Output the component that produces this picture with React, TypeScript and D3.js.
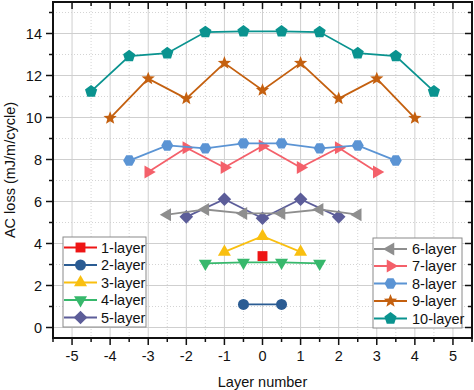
import React from "react";
import * as d3 from "d3";

const seriesNames = ["1-layer","2-layer","3-layer","4-layer","5-layer","6-layer","7-layer","8-layer","9-layer","10-layer"];
const colors = ["#ee1515","#2b5c93","#f9bf10","#37b86c","#5c5d99","#8e8e8e","#f4606a","#5b94d4","#c4600f","#0a938f"];
const markers = ["square","circle","triUp","triDown","diamond","triLeft","triRight","hexagon","star","pentagon"];

const x1 = [0];
const y1 = [3.4];
const x2 = [-0.5, 0.5];
const y2 = [1.1, 1.1];
const x3 = [-1, 0, 1];
const y3 = [3.6, 4.35, 3.6];
const x4 = [-1.5, -0.5, 0.5, 1.5];
const y4 = [3.05, 3.1, 3.1, 3.05];
const x5 = [-2, -1, 0, 1, 2];
const y5 = [5.27, 6.11, 5.2, 6.11, 5.27];
const x6 = [-2.5, -1.5, -0.5, 0.5, 1.5, 2.5];
const y6 = [5.37, 5.62, 5.43, 5.43, 5.62, 5.37];
const x7 = [-3, -2, -1, 0, 1, 2, 3];
const y7 = [7.41, 8.56, 7.62, 8.64, 7.62, 8.56, 7.41];
const x8 = [-3.5, -2.5, -1.5, -0.5, 0.5, 1.5, 2.5, 3.5];
const y8 = [7.95, 8.67, 8.53, 8.77, 8.77, 8.53, 8.67, 7.95];
const x9 = [-4, -3, -2, -1, 0, 1, 2, 3, 4];
const y9 = [9.97, 11.85, 10.9, 12.59, 11.3, 12.59, 10.9, 11.85, 9.97];
const x10 = [-4.5, -3.5, -2.5, -1.5, -0.5, 0.5, 1.5, 2.5, 3.5, 4.5];
const y10 = [11.24, 12.92, 13.06, 14.07, 14.1, 14.1, 14.07, 13.06, 12.92, 11.24];

const xsAll = [x1,x2,x3,x4,x5,x6,x7,x8,x9,x10];
const ysAll = [y1,y2,y3,y4,y5,y6,y7,y8,y9,y10];

const xTicks = [-5,-4,-3,-2,-1,0,1,2,3,4,5];
const yTicks = [0,2,4,6,8,10,12,14];
const xLabel = "Layer number";
const yLabel = "AC loss (mJ/m/cycle)";

const W = 474, H = 390;
const L = 53, R = 472, T = 2, B = 338;
const FONT = "'Liberation Sans', Arial, sans-serif";
const FS = 14.5;

function polygon(n: number, r: number, rot: number) {
  const pts: string[] = [];
  for (let i = 0; i < n; i++) {
    const a = rot + (i * 2 * Math.PI) / n;
    pts.push(`${(r * Math.cos(a)).toFixed(2)},${(r * Math.sin(a)).toFixed(2)}`);
  }
  return "M" + pts.join("L") + "Z";
}

function star(ro: number, ri: number) {
  const pts: string[] = [];
  for (let i = 0; i < 10; i++) {
    const r = i % 2 === 0 ? ro : ri;
    const a = -Math.PI / 2 + (i * Math.PI) / 5;
    pts.push(`${(r * Math.cos(a)).toFixed(2)},${(r * Math.sin(a)).toFixed(2)}`);
  }
  return "M" + pts.join("L") + "Z";
}

function markerPath(kind: string): string {
  switch (kind) {
    case "square": return polygon(4, 7, Math.PI / 4);
    case "circle": return d3.symbol(d3.symbolCircle, 95)() as string;
    case "triUp": return polygon(3, 7.5, -Math.PI / 2);
    case "triDown": return polygon(3, 7.5, Math.PI / 2);
    case "diamond": return polygon(4, 6.8, 0);
    case "triLeft": return polygon(3, 7.5, Math.PI);
    case "triRight": return polygon(3, 7.5, 0);
    case "hexagon": return polygon(6, 6, 0);
    case "star": return star(7, 3);
    case "pentagon": return polygon(5, 6.4, -Math.PI / 2);
  }
  return "";
}

export default function App() {
  const x = d3.scaleLinear().domain([-5.5, 5.5]).range([L, R]);
  const y = d3.scaleLinear().domain([-0.5, 15.5]).range([B, T]);
  const line = d3.line<[number, number]>().x(d => x(d[0])).y(d => y(d[1]));

  const xMinor = d3.range(-5.5, 5.51, 0.5);
  const yInts = d3.range(0, 16, 1);
  const xGridMinor = d3.range(-4.5, 5, 1);
  const yGridMinor = d3.range(1, 16, 2);

  const legendLeft = [0,1,2,3,4];
  const legendRight = [5,6,7,8,9];

  const legend = (idxs: number[], bx: number, by: number, bw: number, bh: number, ey: number[], lx0: number, lx1: number, tx: number) => (
    <g>
      <rect x={bx} y={by} width={bw} height={bh} fill="#fff" stroke="#8a8a8a" strokeWidth={1} />
      {idxs.map((s, i) => (
        <g key={s}>
          <line x1={lx0} x2={lx1} y1={ey[i]} y2={ey[i]} stroke={colors[s]} strokeWidth={2} />
          <path d={markerPath(markers[s])} transform={`translate(${(lx0 + lx1) / 2},${ey[i]})`} fill={colors[s]} />
          <text x={tx} y={ey[i]} dy="0.35em" fontSize={FS} fontFamily={FONT} fill="#111">{seriesNames[s]}</text>
        </g>
      ))}
    </g>
  );

  return (
    <svg width={W} height={H} style={{ position: "absolute", left: 0, top: 0, background: "#fff" }}>
      <rect x={0} y={0} width={W} height={H} fill="#fff" />
      {xGridMinor.map(v => <line key={"xm" + v} x1={x(v)} x2={x(v)} y1={T} y2={B} stroke="#d4d4d4" strokeWidth={1} strokeDasharray="1,2" />)}
      {yGridMinor.map(v => <line key={"ym" + v} x1={L} x2={R} y1={y(v)} y2={y(v)} stroke="#d4d4d4" strokeWidth={1} strokeDasharray="1,2" />)}
      {xTicks.map(v => <line key={"xg" + v} x1={x(v)} x2={x(v)} y1={T} y2={B} stroke="#cfcfcf" strokeWidth={1} />)}
      {yTicks.map(v => <line key={"yg" + v} x1={L} x2={R} y1={y(v)} y2={y(v)} stroke="#cfcfcf" strokeWidth={1} />)}

      {xsAll.map((xs, s) => {
        const pts: [number, number][] = xs.map((v, i) => [v, ysAll[s][i]]);
        return (
          <g key={s}>
            {pts.length > 1 && <path d={line(pts) as string} fill="none" stroke={colors[s]} strokeWidth={1.8} />}
            {pts.map((p, i) => (
              <path key={i} d={markerPath(markers[s])} transform={`translate(${x(p[0])},${y(p[1])})`} fill={colors[s]} />
            ))}
          </g>
        );
      })}

      <rect x={L} y={T} width={R - L} height={B - T} fill="none" stroke="#111" strokeWidth={2} />

      {xMinor.map(v => {
        const major = Number.isInteger(v);
        return <line key={"bt" + v} x1={x(v)} x2={x(v)} y1={B} y2={B + (major ? 7 : 4)} stroke="#111" strokeWidth={1.5} />;
      })}
      {xMinor.map(v => {
        const major = Number.isInteger(v);
        return <line key={"tt" + v} x1={x(v)} x2={x(v)} y1={T} y2={T + (major ? 7 : 4)} stroke="#111" strokeWidth={1.5} />;
      })}
      {yInts.map(v => {
        const major = v % 2 === 0;
        return <line key={"lt" + v} x1={L} x2={L - (major ? 7 : 4)} y1={y(v)} y2={y(v)} stroke="#111" strokeWidth={1.5} />;
      })}
      {yInts.map(v => {
        const major = v % 2 === 0;
        return <line key={"rt" + v} x1={R} x2={R - (major ? 7 : 4)} y1={y(v)} y2={y(v)} stroke="#111" strokeWidth={1.5} />;
      })}

      {xTicks.map(v => (
        <text key={"xl" + v} x={x(v)} y={361} textAnchor="middle" fontSize={FS} fontFamily={FONT} fill="#111">{v}</text>
      ))}
      {yTicks.map(v => (
        <text key={"yl" + v} x={42} y={y(v)} dy="0.35em" textAnchor="end" fontSize={FS} fontFamily={FONT} fill="#111">{v}</text>
      ))}

      <text x={(L + R) / 2} y={387} textAnchor="middle" fontSize={FS} fontFamily={FONT} fill="#111">{xLabel}</text>
      <text transform={`translate(15,${(T + B) / 2}) rotate(-90)`} textAnchor="middle" fontSize={FS} fontFamily={FONT} fill="#111">{yLabel}</text>

      {legend(legendLeft, 63, 237, 83, 90, [247.5, 265, 282.5, 300, 317.5], 64, 97, 101)}
      {legend(legendRight, 373, 238, 89, 90, [249, 266, 283.5, 301, 318.5], 374, 407, 412)}
    </svg>
  );
}
